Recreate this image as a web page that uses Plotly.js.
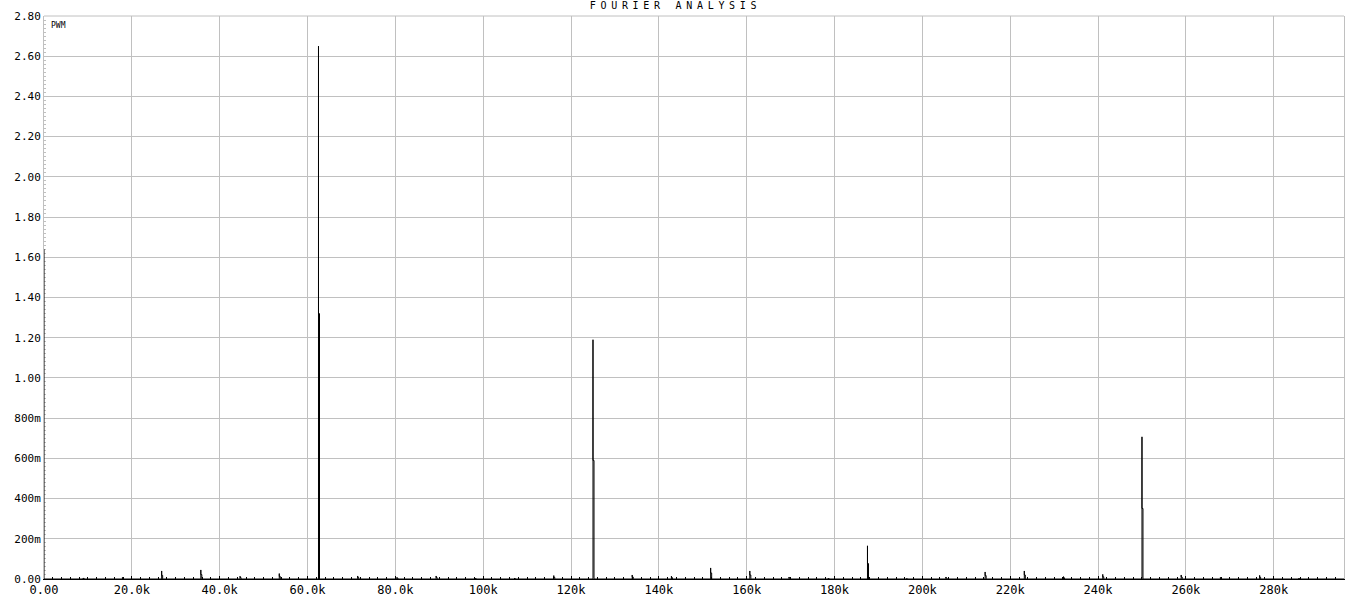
<!DOCTYPE html>
<html>
<head>
<meta charset="utf-8">
<script src="https://cdn.plot.ly/plotly-3.0.1.min.js"></script>
<style>
  html, body { margin: 0; padding: 0; background: #fff; }
  #plot { width: 1351px; height: 597px; }
</style>
</head>
<body>
<div id="plot"></div>
<script>
// FFT of the PWM signal: DC bin plus harmonic peaks (Hz / V)
const dcValue = 1.64;

const harmFreq = [
    8930, 17860, 26790, 35710, 44640, 53570, 62500, 71430, 80360, 89290,
    98210, 107140, 116070, 125000, 133930, 142860, 151790, 160710, 169640, 178570,
    187500, 196430, 205360, 214290, 223210, 232140, 241070, 250000, 258930, 267860,
    276790, 285710
];
// value of the peak bin
const peakValue = [
    0.005, 0.008, 0.040, 0.045, 0.014, 0.027, 2.650, 0.015, 0.008, 0.015,
    0.004, 0.005, 0.017, 1.190, 0.020, 0.014, 0.055, 0.040, 0.010, 0.004,
    0.165, 0.003, 0.010, 0.035, 0.040, 0.012, 0.023, 0.707, 0.020, 0.008,
    0.018, 0.004
];
// value of the bin right after the peak
const nextValue = [
    0.003, 0.004, 0.018, 0.022, 0.007, 0.013, 1.320, 0.007, 0.004, 0.007,
    0.002, 0.002, 0.008, 0.590, 0.010, 0.007, 0.030, 0.020, 0.005, 0.002,
    0.077, 0.001, 0.005, 0.017, 0.020, 0.006, 0.011, 0.351, 0.010, 0.004,
    0.009, 0.002
];

const binWidth = 230;

const xTickVals = [0, 20000, 40000, 60000, 80000, 100000, 120000, 140000,
    160000, 180000, 200000, 220000, 240000, 260000, 280000];
const xTickText = ['0.00', '20.0k', '40.0k', '60.0k', '80.0k', '100k', '120k', '140k',
    '160k', '180k', '200k', '220k', '240k', '260k', '280k'];

const yTickVals = [0, 0.2, 0.4, 0.6, 0.8, 1.0, 1.2, 1.4, 1.6, 1.8, 2.0, 2.2, 2.4, 2.6, 2.8];
const yTickText = ['0.00', '200m', '400m', '600m', '800m', '1.00', '1.20', '1.40',
    '1.60', '1.80', '2.00', '2.20', '2.40', '2.60', '2.80'];

/**
 * Build the spectrum line: each harmonic is a peak bin followed by one lower bin.
 */
function buildSpectrum() {
    let trace = {
        x: [0],
        y: [dcValue],
        mode: 'lines',
        type: 'scatter',
        line: {color: '#000000', width: 1, shape: 'vh'},
        hoverinfo: 'skip'
    };
    trace.x.push(binWidth);
    trace.y.push(0);
    for (let i = 0; i < harmFreq.length; i++) {
        let f = harmFreq[i];
        trace.x.push(f, f, f + binWidth, f + binWidth);
        trace.y.push(0, peakValue[i], nextValue[i], 0);
    }
    trace.x.push(296000);
    trace.y.push(0);
    return trace;
}

const monoFont = {family: 'DejaVu Sans Mono, monospace', size: 11, color: '#000000'};

let layout = {
    width: 1351,
    height: 597,
    margin: {l: 44, r: 7, t: 16, b: 18, pad: 0},
    paper_bgcolor: '#ffffff',
    plot_bgcolor: '#ffffff',
    showlegend: false,
    title: {
        text: 'FOURIER ANALYSIS',
        font: {family: 'DejaVu Sans Mono, monospace', size: 10, color: '#000000'},
        x: 0.5, xref: 'container', xanchor: 'center',
        y: 0.99, yref: 'container', yanchor: 'middle'
    },
    xaxis: {
        range: [0, 296000],
        tickmode: 'array',
        tickvals: xTickVals,
        ticktext: xTickText,
        tickfont: {family: 'DejaVu Sans Mono, monospace', size: 12, color: '#000000'},
        showgrid: true,
        gridcolor: '#c0c0c0',
        gridwidth: 1,
        zeroline: false,
        showline: true,
        linecolor: '#000000',
        linewidth: 1,
        ticks: 'inside',
        ticklen: 3,
        tickcolor: '#000000',
        minor: {tickmode: 'linear', tick0: 0, dtick: 2000, ticks: 'inside', ticklen: 2,
            tickcolor: '#000000', showgrid: false},
        fixedrange: true
    },
    yaxis: {
        range: [0, 2.8],
        tickmode: 'array',
        tickvals: yTickVals,
        ticktext: yTickText,
        tickfont: monoFont,
        showgrid: true,
        gridcolor: '#c0c0c0',
        gridwidth: 1,
        zeroline: false,
        showline: true,
        mirror: true,
        linecolor: '#c0c0c0',
        linewidth: 1,
        ticks: 'inside',
        ticklen: 3,
        tickcolor: '#c0c0c0',
        minor: {tickmode: 'linear', tick0: 0, dtick: 0.02, ticks: 'inside', ticklen: 2,
            tickcolor: '#c0c0c0', showgrid: false},
        layer: 'below traces',
        fixedrange: true
    },
    shapes: [{
        type: 'line', xref: 'paper', yref: 'paper',
        x0: 0, x1: 1, y0: 1, y1: 1,
        line: {color: '#c0c0c0', width: 1}
    }],
    annotations: [{
        text: 'PWM',
        xref: 'paper', yref: 'paper',
        x: 0, y: 1, xanchor: 'left', yanchor: 'top',
        xshift: 5, yshift: -3,
        showarrow: false,
        font: {family: 'DejaVu Sans Mono, monospace', size: 8, color: '#000000'}
    }]
};

Plotly.newPlot('plot', [buildSpectrum()], layout, {displayModeBar: false, staticPlot: true})
    .then(function () {
        // the original title is spread out wide
        let t = document.querySelector('.gtitle');
        if (t) {
            t.setAttribute('letter-spacing', '4.7');
        }
    });
</script>
</body>
</html>
